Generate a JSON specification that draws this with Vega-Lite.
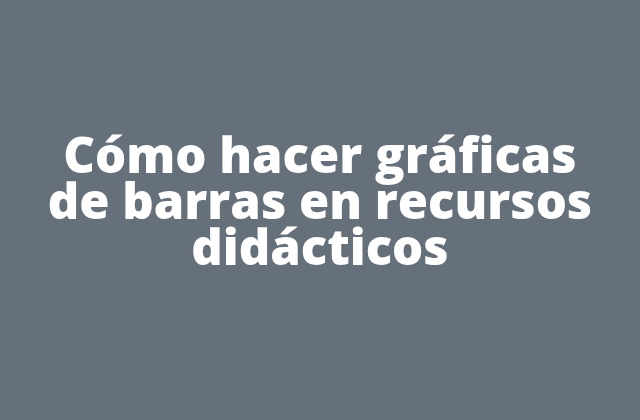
{
  "$schema": "https://vega.github.io/schema/vega-lite/v6.json",
  "autosize": {"type": "fit", "contains": "padding"},
  "width": 640,
  "height": 420,
  "padding": 0,
  "background": "#66707b",
  "data": {
    "values": [
      {"line": 1, "text": "Cómo hacer gráficas"},
      {"line": 2, "text": "de barras en recursos"},
      {"line": 3, "text": "didácticos"}
    ]
  },
  "mark": {
    "type": "text",
    "x": {"expr": "width / 2"},
    "align": "center",
    "baseline": "alphabetic",
    "font": "Open Sans",
    "fontWeight": 800,
    "fontSize": 49,
    "color": "#ffffff"
  },
  "encoding": {
    "y": {
      "field": "line",
      "type": "ordinal",
      "scale": {"type": "point", "range": [173, 265], "padding": 0},
      "axis": null
    },
    "text": {"field": "text"}
  },
  "config": {"view": {"stroke": null}}
}
